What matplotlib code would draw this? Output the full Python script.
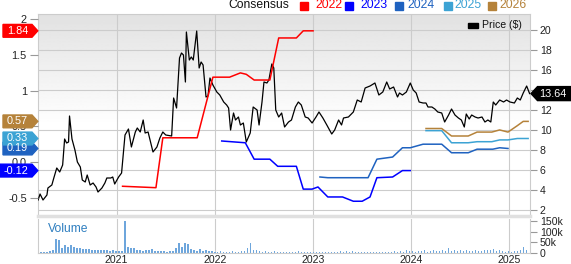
import numpy as np
import matplotlib
matplotlib.use("Agg")
import matplotlib.pyplot as plt
from matplotlib.patches import Polygon, Rectangle

plt.rcParams["font.family"] = ["Liberation Sans", "DejaVu Sans"]
plt.rcParams["axes.unicode_minus"] = False

# ---- data (dates as decimal years) ----
price_t = [2020.20, 2020.22, 2020.25, 2020.29, 2020.30, 2020.34, 2020.36, 2020.39, 2020.42, 2020.45,
           2020.47, 2020.49, 2020.51, 2020.52, 2020.545, 2020.575, 2020.60, 2020.63, 2020.65, 2020.68,
           2020.70, 2020.73, 2020.76, 2020.79, 2020.81, 2020.85, 2020.88, 2020.90, 2020.94, 2020.96,
           2020.98, 2021.02, 2021.05, 2021.085, 2021.12, 2021.15, 2021.19, 2021.21, 2021.24, 2021.27,
           2021.29, 2021.32, 2021.37, 2021.41, 2021.44, 2021.47, 2021.50, 2021.56, 2021.58, 2021.61,
           2021.64, 2021.66, 2021.68, 2021.70, 2021.71, 2021.74, 2021.76, 2021.78, 2021.815, 2021.84,
           2021.86, 2021.88, 2021.91, 2021.93, 2021.95, 2021.98, 2022.02, 2022.05, 2022.09, 2022.12,
           2022.14, 2022.16, 2022.19, 2022.21, 2022.24, 2022.26, 2022.29, 2022.32, 2022.36, 2022.39,
           2022.43, 2022.45, 2022.48, 2022.50, 2022.53, 2022.55, 2022.58, 2022.60, 2022.62, 2022.65,
           2022.68, 2022.71, 2022.75, 2022.78, 2022.82, 2022.85, 2022.88, 2022.92, 2022.95, 2022.99,
           2023.03, 2023.06, 2023.10, 2023.14, 2023.19, 2023.22, 2023.26, 2023.29, 2023.31, 2023.36,
           2023.41, 2023.45, 2023.49, 2023.53, 2023.58, 2023.63, 2023.67, 2023.71, 2023.75, 2023.78,
           2023.82, 2023.86, 2023.88, 2023.91, 2023.95, 2023.99, 2024.02, 2024.05, 2024.08, 2024.12,
           2024.15, 2024.17, 2024.21, 2024.24, 2024.27, 2024.31, 2024.34, 2024.38, 2024.41, 2024.445,
           2024.48, 2024.51, 2024.54, 2024.56, 2024.59, 2024.615, 2024.65, 2024.68, 2024.72, 2024.75,
           2024.78, 2024.81, 2024.835, 2024.86, 2024.90, 2024.94, 2024.97, 2025.005, 2025.05, 2025.08,
           2025.11, 2025.14, 2025.175, 2025.205]
price_v = [3.0, 3.6, 3.0, 3.5, 4.2, 4.5, 5.2, 6.2, 5.8, 6.5,
           9.1, 8.7, 8.8, 11.4, 9.1, 8.0, 6.8, 6.3, 5.0, 4.8,
           5.5, 4.5, 4.7, 4.3, 3.8, 4.2, 4.7, 5.2, 5.2, 5.3,
           4.6, 5.3, 5.7, 9.5, 10.1, 8.3, 9.8, 10.2, 9.8, 11.0,
           9.7, 9.8, 7.8, 8.3, 9.2, 9.8, 9.5, 9.4, 13.2, 12.2,
           17.2, 17.7, 17.5, 14.8, 19.8, 17.0, 17.3, 17.0, 19.9, 16.2,
           16.8, 16.5, 13.3, 13.4, 15.2, 14.5, 13.8, 13.5, 12.8, 12.5,
           12.2, 10.0, 11.7, 11.0, 11.3, 10.5, 10.7, 8.8, 9.7, 12.3,
           12.0, 10.5, 12.8, 14.8, 14.7, 15.0, 16.6, 16.2, 12.0, 11.3,
           11.7, 10.3, 10.8, 11.0, 12.3, 12.8, 12.5, 11.3, 11.2, 10.7,
           11.3, 11.8, 11.2, 10.5, 9.6, 10.0, 11.0, 10.5, 11.2, 11.3,
           11.8, 13.0, 12.8, 14.2, 14.4, 14.7, 13.5, 13.8, 14.8, 14.1,
           14.3, 13.3, 13.7, 13.5, 13.8, 14.7, 14.0, 13.7, 12.8, 12.7,
           12.7, 12.3, 12.3, 12.1, 11.8, 11.7, 10.8, 11.5, 12.1, 11.5,
           11.2, 11.0, 10.3, 11.6, 11.1, 11.5, 11.3, 11.2, 11.3, 10.8,
           11.0, 10.8, 12.8, 12.5, 13.0, 12.8, 13.0, 12.8, 12.7, 13.2,
           13.0, 13.7, 14.4, 13.64]

eps22_t = [2021.06, 2021.40, 2021.47, 2021.82, 2021.98, 2022.15, 2022.26, 2022.32, 2022.40, 2022.56,
           2022.65, 2022.83, 2022.90, 2023.00]
eps22_v = [-0.34, -0.36, 0.34, 0.34, 1.19, 1.19, 1.25, 1.23, 1.15, 1.15, 1.74, 1.74, 1.84, 1.84]

eps23_t = [2022.07, 2022.31, 2022.40, 2022.56, 2022.64, 2022.83, 2022.90, 2022.99, 2023.05, 2023.15,
           2023.30, 2023.41, 2023.50, 2023.58, 2023.65, 2023.81, 2023.91, 2023.99]
eps23_v = [0.295, 0.27, 0.04, 0.04, -0.06, -0.06, -0.38, -0.38, -0.35, -0.49,
           -0.49, -0.55, -0.55, -0.49, -0.22, -0.21, -0.12, -0.12]

eps24_t = [2023.07, 2023.15, 2023.56, 2023.65, 2023.81, 2023.91, 2023.99, 2024.12, 2024.31, 2024.41,
           2024.58, 2024.67, 2024.83, 2024.90, 2024.985]
eps24_v = [-0.21, -0.22, -0.22, 0.04, 0.07, 0.20, 0.20, 0.25, 0.25, 0.13,
           0.13, 0.18, 0.18, 0.20, 0.19]

eps25_t = [2024.15, 2024.31, 2024.41, 2024.58, 2024.67, 2024.82, 2024.90, 2024.985, 2025.08, 2025.19]
eps25_v = [0.44, 0.44, 0.27, 0.27, 0.285, 0.285, 0.31, 0.31, 0.33, 0.33]

eps26_t = [2024.15, 2024.31, 2024.41, 2024.58, 2024.67, 2024.82, 2024.90, 2024.985, 2025.08, 2025.14,
           2025.19]
eps26_v = [0.47, 0.47, 0.365, 0.365, 0.42, 0.42, 0.45, 0.42, 0.51, 0.57, 0.57]

# volume in thousands, one bar every ~11 days starting 2020.2
vol_start = 2020.2
vol_step = 0.0305
volume_k = [5, 6, 5, 7, 10, 15, 65, 62, 22, 38, 28, 38, 28, 25, 22, 20, 18, 20, 12, 15,
            12, 15, 12, 14, 10, 12, 8, 10, 8, 150, 30, 25, 22, 15, 15, 10, 14, 12, 18, 10,
            10, 8, 10, 6, 8, 10, 22, 47, 30, 45, 44, 18, 12, 10, 18, 10, 12, 8, 9, 7,
            6, 8, 6, 7, 6, 9, 6, 7, 11, 8, 22, 47, 15, 12, 9, 6, 8, 6, 7, 9,
            7, 5, 6, 5, 7, 4, 6, 10, 5, 4, 5, 6, 4, 5, 4, 6, 5, 4, 5, 4,
            6, 8, 5, 9, 5, 11, 6, 5, 4, 5, 6, 5, 7, 5, 4, 6, 5, 7, 6, 8,
            5, 9, 7, 12, 8, 9, 7, 10, 8, 12, 7, 10, 14, 9, 8, 12, 10, 22, 10, 14,
            8, 12, 10, 14, 9, 11, 15, 8, 10, 12, 15, 14, 18, 10, 12, 8, 6, 8, 7, 10,
            8, 12, 26, 14]

years = [2021, 2022, 2023, 2024, 2025]
price_ticks = [2, 4, 6, 8, 10, 12, 14, 16, 18, 20]
eps_ticks = [-0.5, 0.0, 0.5, 1.0, 1.5, 2.0]
eps_labels = ["-0.5", "0.0", "0.5", "1", "1.5", "2"]
vol_ticks = [0, 50, 100, 150]
vol_labels = ["0", "50k", "100k", "150k"]

series = [("2022", eps22_t, eps22_v, "#ff0000"),
          ("2023", eps23_t, eps23_v, "#0000ff"),
          ("2024", eps24_t, eps24_v, "#1f62c0"),
          ("2025", eps25_t, eps25_v, "#3ca3d4"),
          ("2026", eps26_t, eps26_v, "#b5823a")]

# ---- layout ----
W, H, DPI = 571, 264, 100
fig = plt.figure(figsize=(W / DPI, H / DPI), dpi=DPI)
L, R = 38, 530
ax = fig.add_axes([L / W, (H - 216) / H, (R - L) / W, (216 - 14) / H])
axv = fig.add_axes([L / W, (H - 253) / H, (R - L) / W, (253 - 219) / H])
xlim = (2020.199, 2025.209)

grid_c = "#cccccc"
tick_c = "#999999"
lab_c = "#222222"

# price axis (primary, right side)
grad = np.ones((200, 1))
fade = np.clip(np.linspace(0, 1, 200) / 0.55, 0, 1)
grad[:, 0] = 0.885 + 0.115 * fade
ax.imshow(grad, cmap="gray", vmin=0, vmax=1, extent=[0, 1, 0, 1], transform=ax.transAxes,
          aspect="auto", zorder=0, interpolation="bilinear")
ax.set_xlim(*xlim)
ax.set_ylim(1.4, 21.6)
for p in price_ticks:
    ax.axhline(p, color=grid_c, lw=0.8, zorder=1)
for yr in years:
    ax.axvline(yr, color=grid_c, lw=0.8, zorder=1)
ax.plot(price_t, price_v, color="black", lw=0.9, zorder=3)
ax.set_xticks([])

# EPS axis (twin, left side)
ae = ax.twinx()
ae.set_ylim(-0.757, 2.076)
for name, t, v, c in series:
    ae.plot(t, v, color=c, lw=1.1, zorder=4)
for s in ae.spines.values():
    s.set_visible(False)

ax.yaxis.tick_right()
ax.yaxis.set_label_position("right")
ax.set_yticks(price_ticks)
ax.tick_params(axis="y", length=5, width=0.8, color=tick_c, labelsize=7.6, labelcolor=lab_c, pad=2)
ae.yaxis.tick_left()
ae.set_yticks(eps_ticks)
ae.set_yticklabels(eps_labels)
ae.tick_params(axis="y", length=6, width=0.8, color=tick_c, labelsize=7.8, labelcolor=lab_c, pad=2)
for s in ["top", "left", "right"]:
    ax.spines[s].set_color(grid_c)
    ax.spines[s].set_linewidth(0.8)
ax.spines["bottom"].set_color("#e0e0e0")
ax.spines["bottom"].set_linewidth(2.5)

# volume panel
vol_t = vol_start + vol_step * np.arange(len(volume_k))
axv.bar(vol_t, volume_k, width=0.014, color="#6ea6dc", edgecolor="none", zorder=2)
for yr in years:
    axv.axvline(yr, color=grid_c, lw=0.8, zorder=1)
axv.set_xlim(*xlim)
axv.set_ylim(0, 159.4)
axv.yaxis.tick_right()
axv.set_yticks(vol_ticks)
axv.set_yticklabels(vol_labels)
axv.set_xticks(years)
axv.set_xticklabels([str(y) for y in years])
axv.tick_params(axis="y", length=5, width=0.8, color=tick_c, labelsize=7.6, labelcolor=lab_c, pad=2)
axv.tick_params(axis="x", length=0, labelsize=7.6, labelcolor=lab_c, pad=1.5)
for s in ["left", "right", "bottom"]:
    axv.spines[s].set_color(grid_c)
    axv.spines[s].set_linewidth(0.8)
axv.spines["top"].set_visible(False)
axv.text(48 / W, (H - 229) / H, "Volume", transform=fig.transFigure, fontsize=8.7,
         color="#2f7fc0", va="center", ha="left")

# ---- legends (figure pixel positions) ----
def fy(px):
    return (H - px) / H

fig.text(228 / W, fy(5.5), "Consensus", fontsize=8.7, color="#111111", va="center", ha="left")
leg_pos = [(300, 315), (345, 360), (395, 407), (444, 454), (488, 499)]
for (sq, tx), (name, t, v, c) in zip(leg_pos, series):
    fig.patches.append(Rectangle((sq / W, fy(9.5)), 8 / W, 7.5 / H, transform=fig.transFigure,
                                 color=c, zorder=5))
    fig.text(tx / W, fy(5.5), name, fontsize=8.7, color=c, va="center", ha="left")

fig.patches.append(Rectangle((468 / W, fy(28)), 10.5 / W, 5 / H, transform=fig.transFigure,
                             color="black", zorder=5))
fig.text(482.5 / W, fy(25.5), "Price ($)", fontsize=7.6, color="#111111", va="center", ha="left")

# ---- value tags ----
fig.canvas.draw()

def y_px(axis, val):
    return H - axis.transData.transform((xlim[0], val))[1]

def left_tag(val, color, text):
    yc = y_px(ae, val)
    x0 = 0 if len(text) > 4 else 3
    x1, tip, hh = 32, 37.8, 6.4
    pts = [(x0, yc - hh), (x1, yc - hh), (tip, yc), (x1, yc + hh), (x0, yc + hh)]
    fig.patches.append(Polygon([(x / W, fy(y)) for x, y in pts], closed=True,
                               transform=fig.transFigure, color=color, zorder=6))
    fig.text((x0 + x1) / 2 / W, fy(yc), text, fontsize=7.8, color="white",
             ha="center", va="center", zorder=7)

def right_tag(val, color, text):
    yc = y_px(ax, val)
    tip, x1, hh = 531, 537.5, 7
    pts = [(tip, yc), (x1, yc - hh), (W, yc - hh), (W, yc + hh), (x1, yc + hh)]
    fig.patches.append(Polygon([(x / W, fy(y)) for x, y in pts], closed=True,
                               transform=fig.transFigure, color=color, zorder=6))
    fig.text(553 / W, fy(yc), text, fontsize=7.8, color="white", ha="center", va="center", zorder=7)

left_tag(eps22_v[-1], "#ff0000", "1.84")
left_tag(eps23_v[-1], "#0000ff", "-0.12")
left_tag(eps24_v[-1], "#1f62c0", "0.19")
left_tag(eps25_v[-1], "#3ca3d4", "0.33")
left_tag(eps26_v[-1], "#b5823a", "0.57")
right_tag(price_v[-1], "black", "13.64")

fig.savefig("out.png", dpi=DPI)
